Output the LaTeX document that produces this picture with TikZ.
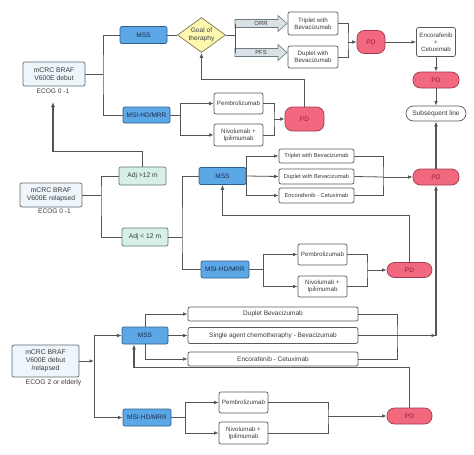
\documentclass[tikz,border=0pt]{standalone}
\usepackage{fontspec}
\setmainfont{Liberation Sans}
\usetikzlibrary{shapes.geometric,arrows.meta,calc}
\definecolor{startfill}{HTML}{EEF6FB}
\definecolor{startdraw}{HTML}{5E6B73}
\definecolor{msblue}{HTML}{5CA8E6}
\definecolor{msdraw}{HTML}{2F5F8A}
\definecolor{mstext}{HTML}{1B2A4A}
\definecolor{pdfill}{HTML}{F2697F}
\definecolor{pddraw}{HTML}{A23A50}
\definecolor{pdtext}{HTML}{8A1C30}
\definecolor{adjfill}{HTML}{D6F0E8}
\definecolor{adjdraw}{HTML}{5C7A70}
\definecolor{goalfill}{HTML}{FFF8B0}
\definecolor{goaldraw}{HTML}{7A7A50}
\definecolor{arrfill}{HTML}{D9E1E5}
\definecolor{arrdraw}{HTML}{6B7B83}
\definecolor{wdraw}{HTML}{5A5A5A}
\definecolor{linegray}{HTML}{555555}
\definecolor{txtgray}{HTML}{3A3A3A}
\tikzset{
  box/.style={draw, rounded corners=2pt, align=center, inner sep=0pt, line width=0.7pt,
    font=\fontsize{6.2}{7.2}\selectfont, text=txtgray},
  startbox/.style={box, fill=startfill, draw=startdraw, font=\fontsize{6.8}{8.2}\selectfont},
  bluebox/.style={box, fill=msblue, draw=msdraw, text=mstext, font=\fontsize{6.5}{7.5}\selectfont},
  adjbox/.style={box, fill=adjfill, draw=adjdraw, font=\fontsize{6.7}{7.7}\selectfont},
  whitebox/.style={box, fill=white, draw=wdraw},
  midbox/.style={whitebox, font=\fontsize{5.8}{6.8}\selectfont},
  lowbox/.style={whitebox, font=\fontsize{6.5}{7.5}\selectfont},
  pdbox/.style={box, rounded corners=7.5pt, fill=pdfill, draw=pddraw, text=pdtext,
    font=\fontsize{6.5}{7.5}\selectfont},
  goalst/.style={diamond, aspect=1.37, draw=goaldraw, fill=goalfill, line width=0.7pt,
    minimum width=48pt, minimum height=35pt, inner sep=0pt, align=center,
    font=\fontsize{6.6}{7.8}\selectfont, text=txtgray},
  bigarrow/.style={draw=arrdraw, fill=arrfill, line width=0.6pt, line join=miter},
  arrlabel/.style={font=\fontsize{5.9}{6.9}\selectfont, text=txtgray, inner sep=0pt},
  plain/.style={font=\fontsize{6.6}{7.6}\selectfont, text=txtgray, inner sep=0pt},
  conn/.style={draw=linegray, line width=0.8pt},
  arr/.style={conn, -{Latex[length=4.5pt,width=3.6pt]}},
  fb/.style={draw=linegray, line width=1.3pt},
  fbarr/.style={fb, -{Latex[length=5pt,width=4pt]}},
}
\begin{document}
\begin{tikzpicture}[x=1pt,y=-1pt]
\fill[white] (0,0) rectangle (474,455);
\useasboundingbox (0,0) rectangle (474,455);

% ---------------- section 1: debut ECOG 0-1
\node[startbox, minimum width=62pt, minimum height=24pt] (deb1) at (54,74) {mCRC BRAF\\V600E debut};
\node[plain] (ecog1) at (53,91) {ECOG 0 -1};
\node[bluebox, minimum width=47pt, minimum height=17pt] (mss1) at (143.5,35) {MSS};
\node[bluebox, minimum width=47pt, minimum height=16pt] (msi1) at (146.5,115) {MSI-HD/MRR};
\node[goalst] (goal) at (201.5,35) {Goal of\\theraphy};
% ORR / PFS block arrows
\draw[bigarrow] (235,19.5) -- (278,19.5) -- (278,15.5) -- (287,23.5) -- (278,31.5) -- (278,27.5) -- (235,27.5) -- cycle;
\draw[bigarrow] (235,48.5) -- (278,48.5) -- (278,44.5) -- (287,52.5) -- (278,60.5) -- (278,56.5) -- (235,56.5) -- cycle;
\node[arrlabel] (orr) at (261,23.5) {ORR};
\node[arrlabel] (pfs) at (261,52.5) {PFS};
\coordinate (orrtail) at (235,23.5);
\coordinate (pfstail) at (235,52.5);
\node[whitebox, minimum width=50pt, minimum height=23pt] (trip1) at (313,23.5) {Triplet with\\Bevacizumab};
\node[whitebox, minimum width=50pt, minimum height=22pt] (dup1) at (313,57) {Duplet with\\Bevacizumab};
\node[pdbox, minimum width=28pt, minimum height=23pt] (pd1) at (371,42) {PD};
\node[whitebox, minimum width=39pt, minimum height=29pt] (enc1) at (436,42) {Encorafenib\\+\\Cetuximab};
\node[pdbox, minimum width=46pt, minimum height=16pt] (pd3) at (436,80) {PD};
\node[whitebox, rounded corners=7.5pt, minimum width=60pt, minimum height=15pt,
  font=\fontsize{6.6}{7.6}\selectfont] (subs) at (436,113.5) {Subsequent line};
\node[whitebox, minimum width=49pt, minimum height=21pt] (pemb1) at (238.5,103.5) {Pembrolizumab};
\node[whitebox, minimum width=49pt, minimum height=22pt] (nivo1) at (238.5,135) {Nivolumab +\\Ipilimumab};
\node[pdbox, minimum width=39pt, minimum height=24pt] (pd2) at (304.5,119) {PD};

\coordinate (j1) at (103,74);
\draw[conn] (deb1.east) -- (j1);
\draw[conn] (mss1.west) -| (j1) |- (msi1.west);
\draw[conn] (mss1.east) -- (goal.west);
\coordinate (j2) at (235,35);
\draw[conn] (goal.east) -- (j2);
\draw[conn] (orrtail) -- (pfstail);
\coordinate (j3) at (348,42);
\draw[conn] (trip1.east) -| (j3) |- (dup1.east);
\draw[arr] (j3) -- (pd1.west);
\draw[arr] (pd1.east) -- (enc1.west);
\draw[arr] (enc1.south) -- (pd3.north);
\draw[arr] (pd3.south) -- (subs.north);
\coordinate (j4) at (180,115);
\draw[conn] (msi1.east) -- (j4);
\draw[arr] (j4) |- (pemb1.west);
\draw[arr] (j4) |- (nivo1.west);
\coordinate (j5) at (274,119);
\draw[conn] (pemb1.east) -| (j5) |- (nivo1.east);
\draw[arr] (j5) -- (pd2.west);
\draw[fbarr] (pd2.north) -- ++(0,-27) -| (goal.south);

% ---------------- section 2: relapsed ECOG 0-1
\node[startbox, minimum width=62pt, minimum height=24pt] (rel) at (51,195) {mCRC BRAF\\V600E relapsed};
\node[plain] (ecog2) at (54.5,211.5) {ECOG 0 -1};
\node[adjbox, minimum width=47pt, minimum height=18pt] (adj1) at (142.5,176) {Adj >12 m};
\node[adjbox, minimum width=46pt, minimum height=18pt] (adj2) at (145,237) {Adj < 12 m};
\node[bluebox, minimum width=47pt, minimum height=17pt] (mss2) at (222.5,176) {MSS};
\node[bluebox, minimum width=48pt, minimum height=17pt] (msi2) at (225,269.5) {MSI-HD/MRR};
\node[midbox, minimum width=75pt, minimum height=14pt] (trip2) at (316.5,156) {Triplet with Bevacizumab};
\node[midbox, minimum width=75pt, minimum height=15pt] (dup2) at (316.5,176.5) {Duplet with Bevacizumab};
\node[midbox, minimum width=75pt, minimum height=15pt] (enc2) at (316.5,195.5) {Encorafenib - Cetuximab};
\node[pdbox, minimum width=46pt, minimum height=16pt] (pd4) at (436,177) {PD};
\node[whitebox, minimum width=49pt, minimum height=21pt] (pemb2) at (322.5,254.5) {Pembrolizumab};
\node[whitebox, minimum width=49pt, minimum height=21pt] (nivo2) at (322.5,286.5) {Nivolumab +\\Ipilimumab};
\node[pdbox, minimum width=45pt, minimum height=15pt] (pd5) at (409.5,270) {PD};

\coordinate (t1) at (53,102);
\draw[fbarr] (adj1.north) -- ++(0,-15) -| (t1);
\coordinate (j6) at (101,195);
\draw[conn] (rel.east) -- (j6);
\draw[conn] (adj1.west) -| (j6) |- (adj2.west);
\coordinate (j7) at (182,237);
\draw[conn] (adj2.east) -- (j7);
\draw[conn] (mss2.west) -| (j7) |- (msi2.west);
\draw[arr] (mss2.east) |- (trip2.west);
\draw[arr] (mss2.east) -- (dup2.west);
\draw[arr] (mss2.east) |- (enc2.west);
\coordinate (j8) at (383,177);
\draw[conn] (trip2.east) -| (j8) |- (enc2.east);
\draw[conn] (dup2.east) -- (j8);
\draw[arr] (j8) -- (pd4.west);
\draw[fbarr] (pd4.north) -- (subs.south);
\coordinate (j9) at (263,269.5);
\draw[conn] (msi2.east) -- (j9);
\draw[arr] (j9) |- (pemb2.west);
\draw[arr] (j9) |- (nivo2.west);
\coordinate (j10) at (367,270);
\draw[conn] (pemb2.east) -| (j10) |- (nivo2.east);
\draw[arr] (j10) -- (pd5.west);
\draw[fbarr] (pd5.north) -- ++(0,-47) -| (mss2.south);

% ---------------- section 3: ECOG 2 or elderly
\node[startbox, minimum width=67pt, minimum height=32pt] (eld) at (45.5,361) {mCRC BRAF\\V600E debut\\/relapsed};
\node[plain, font=\fontsize{6.8}{7.8}\selectfont] (ecog3) at (53.5,382.5) {ECOG 2 or elderly};
\node[bluebox, minimum width=46pt, minimum height=17pt] (mss3) at (145,335.5) {MSS};
\node[bluebox, minimum width=48pt, minimum height=17pt] (msi3) at (147,417.5) {MSI-HD/MRR};
\node[lowbox, minimum width=170pt, minimum height=14pt] (dup3) at (273,314) {Duplet Bevacizumab};
\node[lowbox, minimum width=170pt, minimum height=16pt] (sing3) at (273,335.5) {Single agent chemotheraphy - Bevacizumab};
\node[lowbox, minimum width=170pt, minimum height=14pt] (enc3) at (273,359) {Encorafenib - Cetuximab};
\node[whitebox, minimum width=49pt, minimum height=21pt] (pemb3) at (243.5,402.5) {Pembrolizumab};
\node[whitebox, minimum width=49pt, minimum height=22pt] (nivo3) at (243.5,433) {Nivolumab +\\Ipilimumab};
\node[pdbox, minimum width=45pt, minimum height=16pt] (pd6) at (409.5,416) {PD};

\coordinate (j11) at (94,361);
\draw[arr] (eld.east) -- (j11);
\draw[arr] (j11) |- (mss3.west);
\draw[arr] (j11) |- (msi3.west);
\draw[arr] (mss3.north) |- (dup3.west);
\draw[arr] (mss3.east) -- (sing3.west);
\draw[arr] (mss3.south) |- (enc3.west);
\coordinate (j12) at (397,335.5);
\draw[conn] (dup3.east) -| (j12) |- (enc3.east);
\coordinate (c1) at (pd4.south |- sing3.east);
\draw[arr] (sing3.east) -- (c1);
\draw[fbarr] (c1) -- (pd4.south);
\coordinate (j13) at (185,417.5);
\draw[conn] (msi3.east) -- (j13);
\draw[arr] (j13) |- (pemb3.west);
\draw[arr] (j13) |- (nivo3.west);
\coordinate (j14) at (328,416);
\draw[conn] (pemb3.east) -| (j14) |- (nivo3.east);
\draw[arr] (j14) -- (pd6.west);
\coordinate (m3in) at ($(mss3.south)+(-11,0)$);
\draw[fbarr] (pd6.north) -- ++(0,-40) -| (m3in);
\end{tikzpicture}
\end{document}
